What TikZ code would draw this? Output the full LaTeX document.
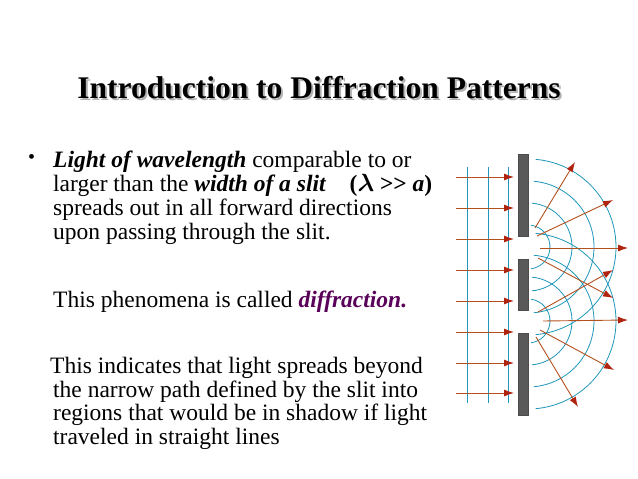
\documentclass[tikz,border=0pt]{standalone}
\usepackage{amsmath}
\usepackage{fontspec}
\setmainfont{Liberation Serif}
\tikzset{
  txt/.style={anchor=base west, inner sep=0pt, font=\fontsize{23.5}{27}\selectfont},
  wave/.style={draw=waveblue, line width=0.8pt},
  ray/.style={draw=raybrown, line width=0.9pt, -{Latex[length=10pt,width=7pt,color=rayred,fill=rayred]}},
  wall/.style={draw=gray!60!black, fill=gray!70!black, line width=0.4pt}
}
\usetikzlibrary{arrows.meta}
\definecolor{waveblue}{RGB}{30,150,185}
\definecolor{raybrown}{RGB}{180,80,30}
\definecolor{rayred}{RGB}{175,35,15}
\newcommand{\emphw}[1]{\textbf{\textit{#1}}}
\begin{document}
\begin{tikzpicture}[x=1pt,y=-1pt]
\useasboundingbox (0,0) rectangle (638,479);
% Title
\node[inner sep=0pt, text=gray!60, font=\fontsize{31.5}{36}\bfseries] at (321,90) {Introduction to Diffraction Patterns};
\node[inner sep=0pt, font=\fontsize{31.5}{36}\bfseries] (title) at (319,88) {Introduction to Diffraction Patterns};
% Text
\node[txt, font=\fontsize{20}{20}\selectfont] (bul) at (28,163) {\textbullet};
\node[txt] (l1) at (53,167) {\emphw{Light of wavelength} comparable to or};
\node[txt] (l2) at (53,191) {larger than the \emphw{width of a slit}\quad\textbf{(}$\boldsymbol{\lambda}$ \textbf{\textgreater\kern0pt\textgreater\ \textit{a})}};
\node[txt] (l3) at (53,215) {spreads out in all forward directions};
\node[txt] (l4) at (53,239) {upon passing through the slit.};
\node[txt] (l5) at (53,307) {This phenomena is called \textcolor{violet!70!black}{\emphw{diffraction.}}};
\node[txt] (l6) at (50,373) {This indicates that light spreads beyond};
\node[txt] (l7) at (53,397) {the narrow path defined by the slit into};
\node[txt] (l8) at (53,420) {regions that would be in shadow if light};
\node[txt] (l9) at (53,444) {traveled in straight lines};
% Incoming plane waves
\foreach \x in {467,488,508} \draw[wave] (\x,167) -- (\x,403);
\foreach \y in {177,208,239,270,301,332,363,393} {
  \coordinate (s\y) at (456,\y);
  \coordinate (e\y) at (514,\y);
  \draw[ray] (s\y) -- (e\y);
}
% Barriers
\draw[wall] (518,154) rectangle (528,236);
\draw[wall] (518,259) rectangle (528,310);
\draw[wall] (518,333) rectangle (528,415);
% Diffracted waves
\coordinate (sa) at (528,247);
\coordinate (sb) at (528,321);
\begin{scope}
\clip (531,140) rectangle (638,430);
\foreach \r in {22,44,66,88} {
  \draw[wave] (528,247) ++(-85:\r) arc[start angle=-85, end angle=85, radius=\r];
  \draw[wave] (528,321) ++(-85:\r) arc[start angle=-85, end angle=85, radius=\r];
}
\end{scope}
% Diffracted rays
\coordinate (a1) at (575,162); \coordinate (a2) at (613,200);
\coordinate (a3) at (628,248); \coordinate (a4) at (613,298);
\coordinate (b1) at (613,270); \coordinate (b2) at (628,320);
\coordinate (b3) at (614,370); \coordinate (b4) at (578,407);
\draw[ray] (535,228) -- (a1);
\draw[ray] (537,236) -- (a2);
\draw[ray] (540,248) -- (a3);
\draw[ray] (538,258) -- (a4);
\draw[ray] (538,312) -- (b1);
\draw[ray] (543,321) -- (b2);
\draw[ray] (540,330) -- (b3);
\draw[ray] (536,337) -- (b4);
\end{tikzpicture}
\end{document}
